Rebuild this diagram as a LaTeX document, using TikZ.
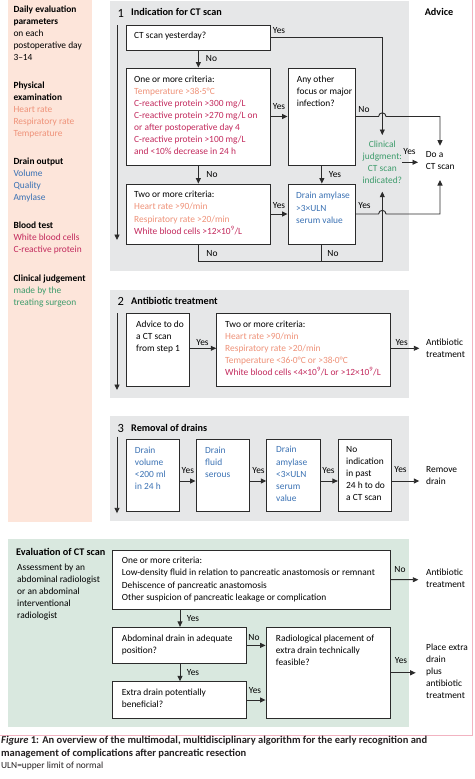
\documentclass[tikz,border=0pt]{standalone}
\usepackage{fontspec}
\setmainfont{Carlito}
\usetikzlibrary{arrows.meta,fit,calc}
\definecolor{salm}{HTML}{EF9279}
\definecolor{crim}{HTML}{C32A5D}
\definecolor{bluec}{HTML}{3B72B4}
\definecolor{greenc}{HTML}{3E9C6C}
\definecolor{peach}{HTML}{FDE5DA}
\definecolor{grayp}{HTML}{E6E7E8}
\definecolor{greenp}{HTML}{D9E8DF}
\definecolor{pinkl}{HTML}{F2B3C1}
\definecolor{linec}{HTML}{2B2B2B}
\definecolor{capc}{HTML}{231F20}
\newcommand\fsz{\fontsize{9.4}{12.1}\selectfont}
\begin{document}
\begin{tikzpicture}[x=1pt,y=-1pt,font=\fsz,
  box/.style={draw=linec,line width=0.9pt,fill=white,inner sep=0pt,fit={#1}},
  tx/.style={anchor=north west,inner sep=0pt,align=left},
  lbl/.style={inner sep=0pt},
  ln/.style={draw=linec,line width=0.9pt},
  arr/.style={ln,-{Triangle[length=5.5pt,width=5pt]}},
  num/.style={anchor=base,inner sep=0pt,font=\fontsize{12.5}{14}\selectfont},
  ttl/.style={anchor=base west,inner sep=0pt,font=\fontsize{10.2}{12}\selectfont\bfseries}]
\useasboundingbox (0,0) rectangle (474,779);
% backgrounds
\fill[peach] (8,0) rectangle (92,522);
\fill[grayp] (110,1) rectangle (409,271);
\fill[grayp] (110,290) rectangle (409,398);
\fill[grayp] (110,415.7) rectangle (409,521);
\fill[greenp] (8,539) rectangle (409,727);
\draw[pinkl,line width=1pt] (472,0) -- (472,735) -- (0,735);

% left panel
\node[tx] (L1) at (13.3,5.3) {\textbf{Daily evaluation}\\\textbf{parameters}\\on each\\postoperative day\\3–14};
\node[tx] (L2) at (13.3,81.3) {\textbf{Physical}\\\textbf{examination}\\\textcolor{salm}{Heart rate}\\\textcolor{salm}{Respiratory rate}\\\textcolor{salm}{Temperature}};
\node[tx] (L3) at (13.3,157.6) {\textbf{Drain output}\\\textcolor{bluec}{Volume}\\\textcolor{bluec}{Quality}\\\textcolor{bluec}{Amylase}};
\node[tx] (L4) at (13.3,221.5) {\textbf{Blood test}\\\textcolor{crim}{White blood cells}\\\textcolor{crim}{C-reactive protein}};
\node[tx] (L5) at (13.3,274.8) {\textbf{Clinical judgement}\\\textcolor{greenc}{made by the}\\\textcolor{greenc}{treating surgeon}};

% panel 1
\node[num] (n1) at (120.7,17) {1};
\node[ttl] (t1) at (131,16) {Indication for CT scan};
\node[ttl,anchor=base] (adv) at (439,16) {Advice};
\coordinate (a1s) at (117,25);
\coordinate (a1e) at (117,240);
\draw[arr] (a1s) -- (a1e);
\node[box={(126,25)(270.7,50)}] (ct) {};
\node[tx] (ctt) at (134,32.1) {CT scan yesterday?};
\node[box={(126,68)(270.7,165)}] (crit1) {};
\node[tx] (crit1t) at (134,75.5) {One or more criteria:\\\textcolor{salm}{Temperature >38·5°C}\\\textcolor{crim}{C-reactive protein >300 mg/L}\\\textcolor{crim}{C-reactive protein >270 mg/L on}\\\textcolor{crim}{or after postoperative day 4}\\\textcolor{crim}{C-reactive protein >100 mg/L}\\\textcolor{crim}{and <10\% decrease in 24 h}};
\node[box={(288,68)(355.7,165)}] (focus) {};
\node[tx] (focust) at (296.7,75.5) {Any other\\focus or major\\infection?};
\node[box={(126,184)(270.7,244)}] (crit2) {};
\node[tx] (crit2t) at (134,191.2) {Two or more criteria:\\\textcolor{salm}{Heart rate >90/min}\\\textcolor{salm}{Respiratory rate >20/min}\\\textcolor{crim}{White blood cells >12×10\textsuperscript{9}/L}};
\node[box={(288,184)(355.7,244)}] (amy) {};
\node[tx,text=bluec] (amyt) at (296,192.2) {Drain amylase\\>3×ULN\\serum value};
\node[tx,anchor=north,align=center,text=greenc] (cj) at (382.3,140.5) {Clinical\\judgment:\\CT scan\\indicated?};
\node[tx] (doct) at (425.7,151.5) {Do a\\CT scan};
\coordinate (cjin) at (382.3,191.7);
\coordinate (nb) at (382.3,261.7);
\coordinate (docA) at (440,145.7);
\coordinate (docB) at (440,180);
\coordinate (docL) at (418,162.3);

\draw[arr] (ct.south) -- (crit1.north);
\draw[arr] (crit1.south) -- (crit2.north);
\draw[arr] (crit1.east) -- (focus.west);
\draw[arr] (focus.south) -- (amy.north);
\draw[arr] (crit2.east) -- (amy.west);
\draw[arr] (ct.east) -| (382.3,135);
\draw[arr] (focus.east) -- (378.6,116.5) arc (180:360:3.7) -- (docA |- focus.east) -- (docA);
\draw[arr] (amy.east) -- (378.6,214) arc (180:360:3.7) -- (docB |- amy.east) -- (docB);
\draw[arr] (crit2.south) |- (nb) -- (cjin);
\draw[ln] (amy.south) -- (amy.south |- nb);
\draw[arr] (402,162.3) -- (docL);

\node[lbl] (y1) at (279,31) {Yes};
\node[lbl] (n1a) at (211.5,59) {No};
\node[lbl] (y2) at (279,107) {Yes};
\node[lbl] (n2) at (364,110) {No};
\node[lbl] (y3) at (409.5,151.7) {Yes};
\node[lbl] (y4) at (335,175) {Yes};
\node[lbl] (n3) at (212,175) {No};
\node[lbl] (y5) at (279,205.7) {Yes};
\node[lbl] (y6) at (364.5,205.7) {Yes};
\node[lbl] (n4) at (212,253.3) {No};
\node[lbl] (n5) at (333,253.3) {No};

% panel 2
\node[num] (n2n) at (120.7,305.5) {2};
\node[ttl] (t2) at (131,304.5) {Antibiotic treatment};
\coordinate (a2s) at (117,313);
\coordinate (a2e) at (117,390);
\draw[arr] (a2s) -- (a2e);
\node[box={(126,313)(189.3,386.7)}] (advb) {};
\node[tx] (advt) at (136,320.5) {Advice to do\\a CT scan\\from step 1};
\node[box={(216.7,313)(390,386.7)}] (crit3) {};
\node[tx] (crit3t) at (225,320.5) {Two or more criteria:\\\textcolor{salm}{Heart rate >90/min}\\\textcolor{salm}{Respiratory rate >20/min}\\\textcolor{salm}{Temperature <36·0°C or >38·0°C}\\\textcolor{crim}{White blood cells <4×10\textsuperscript{9}/L or >12×10\textsuperscript{9}/L}};
\node[tx] (abt1) at (426,338.8) {Antibiotic\\treatment};
\coordinate (abt1in) at (419.3,348.3);
\draw[arr] (advb.east |- abt1in) -- (crit3.west |- abt1in);
\draw[arr] (crit3.east |- abt1in) -- (abt1in);
\node[lbl] (y7) at (202.5,342.7) {Yes};
\node[lbl] (y8) at (401.7,342.7) {Yes};

% panel 3
\node[num] (n3n) at (120.7,432.5) {3};
\node[ttl] (t3) at (131,431.5) {Removal of drains};
\coordinate (a3s) at (117,436.7);
\coordinate (a3e) at (117,513.3);
\draw[arr] (a3s) -- (a3e);
\node[box={(126,439.3)(179,511.7)}] (bA) {};
\node[box={(196,439.3)(249.5,511.7)}] (bB) {};
\node[box={(266.7,439.3)(320.7,511.7)}] (bC) {};
\node[box={(338.3,439.3)(391.7,511.7)}] (bD) {};
\node[tx,text=bluec] (tA) at (134.7,446.8) {Drain\\volume\\<200 ml\\in 24 h};
\node[tx,text=bluec] (tB) at (205,446.8) {Drain\\fluid\\serous};
\node[tx,text=bluec] (tC) at (276,446.3) {Drain\\amylase\\<3×ULN\\serum\\value};
\node[tx] (tD) at (346,446.3) {No\\indication\\in past\\24 h to do\\a CT scan};
\node[tx] (rem) at (426,466.2) {Remove\\drain};
\coordinate (remin) at (419.3,481);
\draw[arr] (bA.east |- remin) -- (bB.west |- remin);
\draw[arr] (bB.east |- remin) -- (bC.west |- remin);
\draw[arr] (bC.east |- remin) -- (bD.west |- remin);
\draw[arr] (bD.east |- remin) -- (remin);
\node[lbl] (y9) at (187.8,470.7) {Yes};
\node[lbl] (y10) at (258.5,470.7) {Yes};
\node[lbl] (y11) at (328.5,470.7) {Yes};
\node[lbl] (y12) at (400.5,469.5) {Yes};

% evaluation of CT scan
\node[ttl] (t4) at (16,555.3) {Evaluation of CT scan};
\node[tx] (asst) at (17,563.8) {Assessment by an\\abdominal radiologist\\or an abdominal\\interventional\\radiologist};
\node[box={(112.7,550)(390.7,609.3)}] (bE) {};
\node[tx] (tE) at (121.7,557.2) {One or more criteria:\\Low-density fluid in relation to pancreatic anastomosis or remnant\\Dehiscence of pancreatic anastomosis\\Other suspicion of pancreatic leakage or complication};
\node[box={(112.7,627.3)(246,663.5)}] (bF) {};
\node[tx] (tF) at (121.7,634.5) {Abdominal drain in adequate\\position?};
\node[box={(266,627.3)(390.7,718.3)}] (bG) {};
\node[tx] (tG) at (275.7,634.5) {Radiological placement of\\extra drain technically\\feasible?};
\node[box={(112.7,681.7)(246,718.3)}] (bH) {};
\node[tx] (tH) at (121.7,688.8) {Extra drain potentially\\beneficial?};
\node[tx] (abt2) at (426,568.8) {Antibiotic\\treatment};
\node[tx] (plc) at (426,643.8) {Place extra\\drain\\plus\\antibiotic\\treatment};
\coordinate (abt2in) at (418.3,579.7);
\coordinate (plcin) at (415.7,672.8);
\coordinate (vx) at (180,0);
\draw[arr] (bE.east) -- (abt2in);
\draw[arr] (bE.south -| vx) -- (bF.north -| vx);
\draw[arr] (bF.east) -- (bF.east -| bG.west);
\draw[arr] (bF.south -| vx) -- (bH.north -| vx);
\draw[arr] (bH.east) -- (bH.east -| bG.west);
\draw[arr] (bG.east) -- (plcin);
\node[lbl] (n6) at (400,570) {No};
\node[lbl] (y13) at (193,619) {Yes};
\node[lbl] (n7) at (254,637.3) {No};
\node[lbl] (y14) at (193,672.7) {Yes};
\node[lbl] (y15) at (255,690.7) {Yes};
\node[lbl] (y16) at (401,660.7) {Yes};

% caption
\node[anchor=base west,inner sep=0pt,text=capc,font=\fontsize{10.5}{12}\selectfont\bfseries] (cap1) at (1,743.5) {\textit{Figure} 1: An overview of the multimodal, multidisciplinary algorithm for the early recognition and};
\node[anchor=base west,inner sep=0pt,text=capc,font=\fontsize{10.5}{12}\selectfont\bfseries] (cap2) at (1,756) {management of complications after pancreatic resection};
\node[anchor=base west,inner sep=0pt,text=capc,font=\fontsize{9.4}{12}\selectfont] (cap3) at (1,768) {ULN=upper limit of normal};
\end{tikzpicture}
\end{document}
